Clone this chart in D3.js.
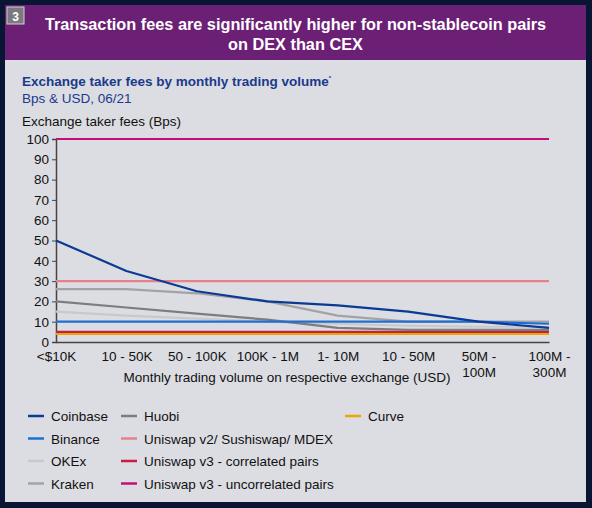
<!DOCTYPE html>
<html>
<head>
<meta charset="utf-8">
<script src="https://cdn.jsdelivr.net/npm/d3@7"></script>
<style>
  body { margin: 0; background: #081633; }
  svg { display: block; font-family: "Liberation Sans", Arial, sans-serif; }
</style>
</head>
<body>
<script>
// volume bands on the x axis
var volumeBands = ['<$10K', '10 - 50K', '50 - 100K', '100K - 1M', '1- 10M', '10 - 50M', '50M - 100M', '100M - 300M'];
var yTicks = [0, 10, 20, 30, 40, 50, 60, 70, 80, 90, 100];

// taker fees in bps, one value per band
var coinbase = [50, 35, 25, 20, 18, 15, 10, 7];
var binance = [10, 10, 10, 10, 10, 10, 10, 9];
var okex = [15, 13, 11.5, 10, 9, 8, 7.5, 7.5];
var kraken = [26, 26, 24, 20, 13, 10, 10, 10];
var huobi = [20, 17, 14, 11, 7, 6, 6, 6];
var uniswapV2 = [30, 30, 30, 30, 30, 30, 30, 30];
var uniswapV3Corr = [5, 5, 5, 5, 5, 5, 5, 5];
var uniswapV3Uncorr = [100, 100, 100, 100, 100, 100, 100, 100];
var curve = [4, 4, 4, 4, 4, 4, 4, 4];

var seriesNames = ['Coinbase', 'Binance', 'OKEx', 'Kraken', 'Huobi', 'Uniswap v2/ Sushiswap/ MDEX',
  'Uniswap v3 - correlated pairs', 'Uniswap v3 - uncorrelated pairs', 'Curve'];
var seriesValues = [coinbase, binance, okex, kraken, huobi, uniswapV2, uniswapV3Corr, uniswapV3Uncorr, curve];
var seriesColors = ['#0a3a94', '#1f6fd2', '#c9c9cc', '#a3a3a6', '#7d7d80', '#e8818c', '#c81e44', '#c60c7c', '#e9a800'];
// back to front
var drawOrder = [7, 5, 8, 6, 2, 4, 3, 1, 0];

const w = 592, h = 508;

var svg = d3.select('body').append('svg')
  .attr('width', w)
  .attr('height', h);

svg.append('rect').attr('width', w).attr('height', h).attr('fill', '#081633');
svg.append('rect').attr('x', 5).attr('y', 5).attr('width', 581).attr('height', 497).attr('fill', '#dcdde2');
svg.append('rect').attr('x', 5).attr('y', 5).attr('width', 581).attr('height', 55).attr('fill', '#6c2075');

// number badge
svg.append('rect').attr('x', 7).attr('y', 7).attr('width', 17).attr('height', 17)
  .attr('fill', '#7a7a80').attr('stroke', '#d0d0d0').attr('stroke-width', 1);
svg.append('text').attr('x', 15.5).attr('y', 20.5).attr('text-anchor', 'middle')
  .attr('fill', 'white').style('font-size', '12px').style('font-weight', 'bold').text('3');

var title = svg.append('text').attr('text-anchor', 'middle').attr('fill', 'white')
  .style('font-size', '16.3px').style('font-weight', 'bold');
title.append('tspan').attr('x', 295.5).attr('y', 30).text('Transaction fees are significantly higher for non-stablecoin pairs');
title.append('tspan').attr('x', 295.5).attr('y', 50).text('on DEX than CEX');

var sub = svg.append('text').attr('x', 22).attr('y', 86).attr('fill', '#1a3a8c')
  .style('font-size', '13.5px').style('font-weight', 'bold');
sub.append('tspan').text('Exchange taker fees by monthly trading volume');
sub.append('tspan').attr('dy', -6).style('font-size', '6px').text('*');
svg.append('text').attr('x', 22).attr('y', 103).attr('fill', '#1a3a8c')
  .style('font-size', '13.5px').text('Bps & USD, 06/21');
svg.append('text').attr('x', 22).attr('y', 126).attr('fill', '#111')
  .style('font-size', '13.5px').text('Exchange taker fees (Bps)');

var x = d3.scalePoint().domain(volumeBands).range([56, 549]);
var y = d3.scaleLinear().domain([0, 100]).range([342, 139]);

var yAxis = svg.append('g').attr('transform', 'translate(56,0)')
  .call(d3.axisLeft(y).tickValues(yTicks).tickSize(4).tickPadding(3));
yAxis.select('.domain').attr('stroke', '#444').attr('stroke-width', 1.5);
yAxis.selectAll('.tick line').attr('stroke', '#444');
yAxis.selectAll('text').attr('fill', '#111').style('font-size', '13.5px').style('font-family', '"Liberation Sans", Arial, sans-serif');

var xAxis = svg.append('g').attr('transform', 'translate(0,342)')
  .call(d3.axisBottom(x).tickSize(0).tickPadding(9.5));
xAxis.select('.domain').attr('stroke', '#444').attr('stroke-width', 1.5);
xAxis.selectAll('text').attr('fill', '#111').style('font-size', '13.5px')
  .style('font-family', '"Liberation Sans", Arial, sans-serif')
  .each(function(d) {
    // the two biggest bands wrap after the dash
    var parts = d.split(/(?<=M -) /);
    if (parts.length > 1) {
      var t = d3.select(this).text('');
      t.append('tspan').attr('x', 0).text(parts[0]);
      t.append('tspan').attr('x', 0).attr('dy', '1.2em').text(parts[1]);
    }
  });

svg.append('text').attr('x', 287).attr('y', 382).attr('text-anchor', 'middle').attr('fill', '#111')
  .style('font-size', '13.5px').text('Monthly trading volume on respective exchange (USD)');

var line = d3.line()
  .x(function(d, i) { return x(volumeBands[i]); })
  .y(function(d) { return y(d); });

svg.append('g').selectAll('path')
  .data(drawOrder)
  .enter()
  .append('path')
  .attr('d', function(k) { return line(seriesValues[k]); })
  .attr('fill', 'none')
  .attr('stroke', function(k) { return seriesColors[k]; })
  .attr('stroke-width', 2.2)
  .attr('stroke-linejoin', 'round');

// legend, four rows per column
var legendCols = [28, 121, 345];
var legend = svg.append('g').selectAll('g')
  .data(seriesNames)
  .enter()
  .append('g')
  .attr('transform', function(d, i) {
    return 'translate(' + legendCols[Math.floor(i / 4)] + ',' + (416 + (i % 4) * 22.5) + ')';
  });
legend.append('line').attr('x1', 0).attr('x2', 16)
  .attr('stroke', function(d, i) { return seriesColors[i]; }).attr('stroke-width', 2.5);
legend.append('text').attr('x', 23).attr('y', 5).attr('fill', '#111')
  .style('font-size', '13.5px').text(function(d) { return d; });
</script>
</body>
</html>
